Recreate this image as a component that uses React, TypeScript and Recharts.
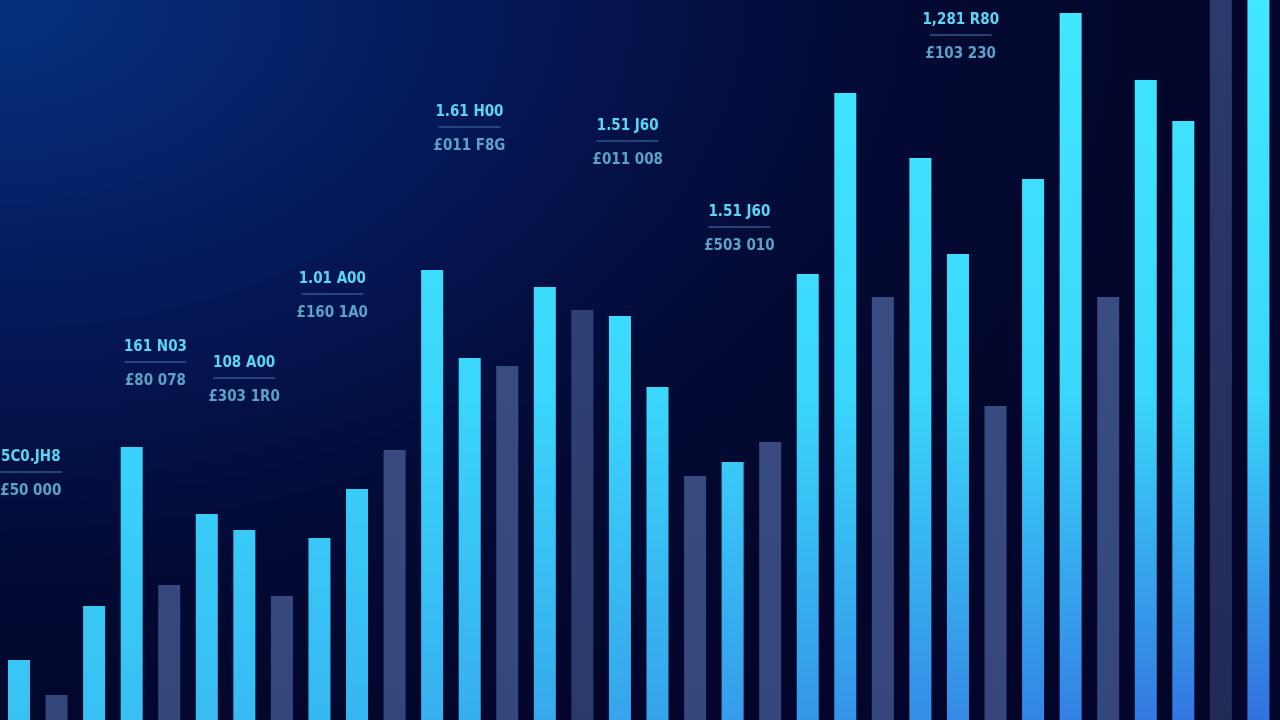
import React from "react";
import { ComposedChart, Bar, Cell, Line, XAxis, YAxis } from "recharts";

// bar heights (px scale, 720 = full height)
const periods = Array.from({ length: 34 }, (_, i) => `P${String(i + 1).padStart(2, "0")}`);
const values = [60, 25, 114, 273, 135, 206, 190, 124, 182, 231, 270, 450, 362, 354, 433, 410, 404, 333, 244, 258, 278, 446, 627, 423, 562, 466, 314, 541, 707, 423, 640, 599, 760, 760];
// h = bright cyan bar, l = muted slate bar
const kinds = ["h", "l", "h", "h", "l", "h", "h", "l", "h", "h", "l", "h", "h", "l", "h", "l", "h", "h", "l", "h", "l", "h", "h", "l", "h", "h", "l", "h", "h", "l", "h", "h", "l", "h"];

// floating figures above the bars
const noteAt = [0, 3, 6, 8, 12, 16, 19, 25];
const noteTop = ["5C0.JH8", "161 N03", "108 A00", "1.01 A00", "1.61 H00", "1.51 J60", "1.51 J60", "1,281 R80"];
const noteBottom = ["£50 000", "£80 078", "£303 1R0", "£160 1A0", "£011 F8G", "£011 008", "£503 010", "£103 230"];
const noteLevel = [248, 358, 342, 426, 593, 579, 493, 685];
const noteShift = [12, 24, 0, 13, 0, 8, 7, 3];

const data = periods.map((p, i) => {
  const k = noteAt.indexOf(i);
  return {
    period: p,
    value: values[i],
    kind: kinds[i],
    noteLevel: k >= 0 ? noteLevel[k] : null,
    noteIdx: k,
  };
});

function mix(a: number[], b: number[], t: number) {
  const c = a.map((v, j) => Math.round(v + (b[j] - v) * t));
  return `rgb(${c[0]},${c[1]},${c[2]})`;
}

const NoteDot = (props: any) => {
  const { cx, cy, payload } = props;
  if (cy == null || payload == null || payload.noteIdx < 0) return null;
  const k = payload.noteIdx;
  const x = cx + noteShift[k];
  const font = "'Liberation Sans Narrow', 'DejaVu Sans Condensed', sans-serif";
  return (
    <g>
      <text x={x} y={cy - 11} textAnchor="middle" fill="#58d6f4" fontSize={15} fontWeight={700} fontFamily={font}>
        {noteTop[k]}
      </text>
      <line x1={x - 31} x2={x + 31} y1={cy} y2={cy} stroke="#34548a" strokeWidth={1.5} />
      <text x={x} y={cy + 23} textAnchor="middle" fill="#5aa2c8" fontSize={15} fontWeight={700} fontFamily={font}>
        {noteBottom[k]}
      </text>
    </g>
  );
};

export default function App() {
  return (
    <div
      style={{
        position: "fixed",
        left: 0,
        top: 0,
        width: 1280,
        height: 720,
        overflow: "hidden",
        background:
          "radial-gradient(ellipse 95% 110% at 0% 0%, #06307c 0%, #05236a 22%, #041552 45%, #030a34 72%, #03062a 100%)",
      }}
    >
      <ComposedChart width={1280} height={720} data={data} margin={{ top: 0, right: 3, bottom: 0, left: 0 }}>
        <defs>
          {data.map((d, i) => (
            <linearGradient key={i} id={`g${i}`} gradientUnits="userSpaceOnUse" x1="0" y1="0" x2="0" y2="720">
              {d.kind === "h" ? (
                <>
                  <stop offset="0" stopColor="#42e8ff" />
                  <stop offset="0.55" stopColor="#3ad6fb" />
                  <stop offset="1" stopColor={mix([56, 194, 244], [50, 112, 222], Math.pow(i / 33, 1.4))} />
                </>
              ) : (
                <>
                  <stop offset="0" stopColor={i === 32 ? "#2b3a6c" : "#3d5288"} />
                  <stop offset="1" stopColor={i === 32 ? "#222a56" : "#34467c"} />
                </>
              )}
            </linearGradient>
          ))}
        </defs>
        <XAxis dataKey="period" hide />
        <YAxis hide domain={[0, 720]} allowDataOverflow />
        <Bar dataKey="value" barSize={22} isAnimationActive={false}>
          {data.map((d, i) => (
            <Cell key={i} fill={`url(#g${i})`} fillOpacity={i === 15 ? 0.8 : 1} />
          ))}
        </Bar>
        <Line
          dataKey="noteLevel"
          stroke="none"
          dot={<NoteDot />}
          activeDot={false}
          isAnimationActive={false}
        />
      </ComposedChart>
    </div>
  );
}
